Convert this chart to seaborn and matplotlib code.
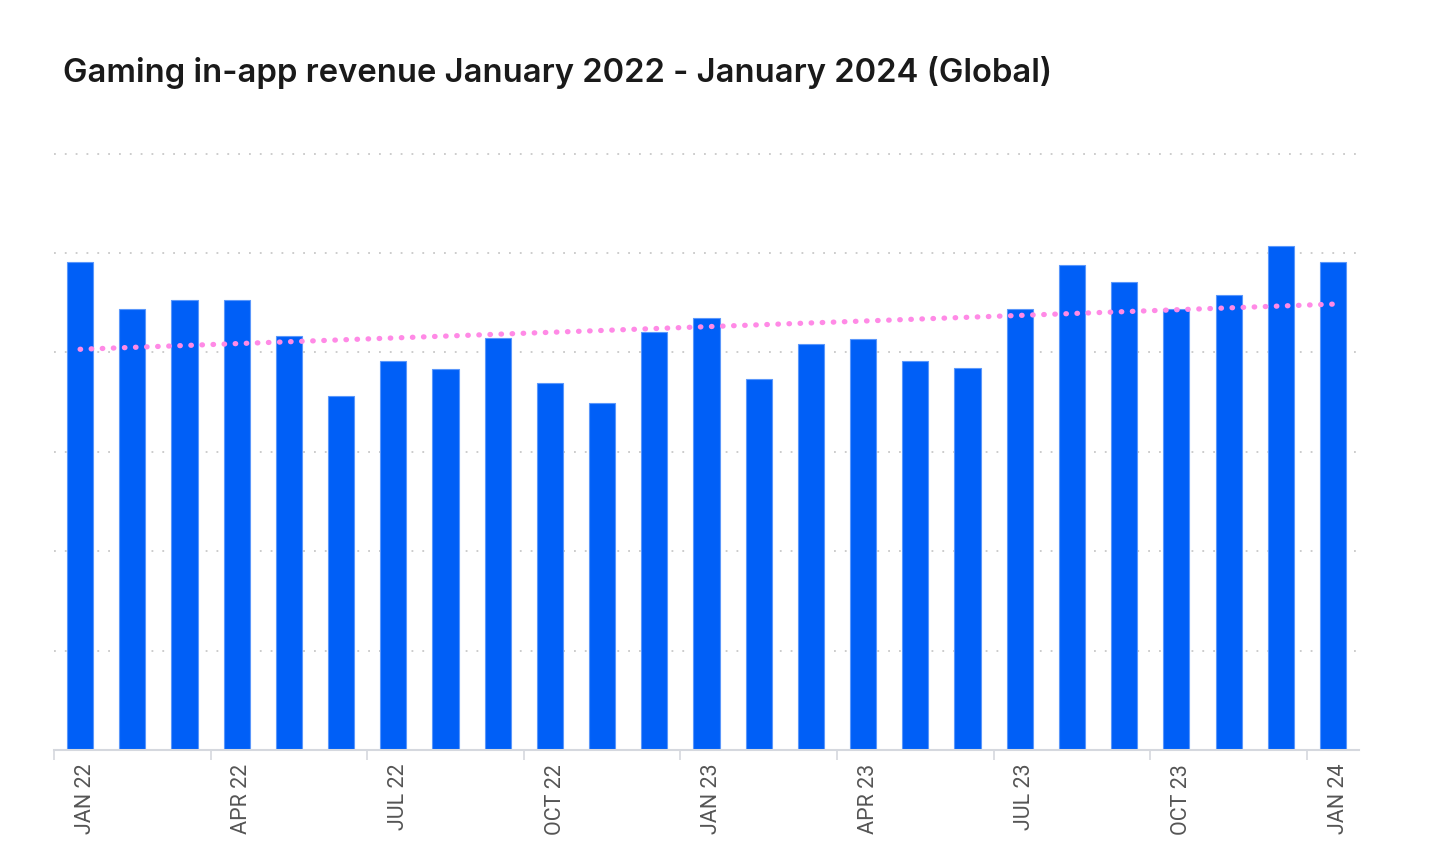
import numpy as np
import pandas as pd
import seaborn as sns
import matplotlib.pyplot as plt

# monthly in-app revenue (gridline = 1 unit)
months = ["JAN 22", "FEB 22", "MAR 22", "APR 22", "MAY 22", "JUN 22", "JUL 22",
          "AUG 22", "SEP 22", "OCT 22", "NOV 22", "DEC 22", "JAN 23", "FEB 23",
          "MAR 23", "APR 23", "MAY 23", "JUN 23", "JUL 23", "AUG 23", "SEP 23",
          "OCT 23", "NOV 23", "DEC 23", "JAN 24"]
revenue = [4.91, 4.44, 4.53, 4.53, 4.16, 3.56, 3.91, 3.83, 4.14, 3.69, 3.49, 4.20,
           4.35, 3.73, 4.08, 4.13, 3.91, 3.84, 4.44, 4.88, 4.71, 4.44, 4.58, 5.07, 4.91]
shown_labels = ["JAN 22", "APR 22", "JUL 22", "OCT 22", "JAN 23", "APR 23",
                "JUL 23", "OCT 23", "JAN 24"]

df = pd.DataFrame({"month": months, "revenue": revenue})

sns.set_style("white")
plt.rcParams["font.family"] = ["Roboto", "DejaVu Sans"]

fig = plt.figure(figsize=(14.4, 8.61), dpi=100)
ax = fig.add_axes([0.0375, 0.129, 0.9063, 0.703])

sns.barplot(data=df, x="month", y="revenue", color="#005ff7", saturation=1,
            width=0.5, ax=ax, edgecolor="#5b97fb", linewidth=0.8)

# linear trend line
xs = np.arange(len(revenue))
slope, intercept = np.polyfit(xs, revenue, 1)
sns.lineplot(x=xs, y=slope * xs + intercept, ax=ax, color="#ff8ae6",
             linestyle=(0, (0.1, 2.0)), linewidth=3.8, dash_capstyle="round", zorder=3)

ax.set_xlim(-0.5, 24.5)
ax.set_ylim(0, 6.09)
ax.set_yticks(range(1, 7))
ax.yaxis.grid(True, color="#c8c8c8", linestyle=(0, (1, 5)), linewidth=1.3)
ax.set_axisbelow(True)
ax.tick_params(axis="y", left=False, labelleft=False)

for s in ["top", "right", "left"]:
    ax.spines[s].set_visible(False)
ax.spines["bottom"].set_color("#d5d8de")
ax.spines["bottom"].set_linewidth(1.5)

# tick marks sit between bars, labels under bars
ax.set_xticks([i - 0.5 for i in range(0, 25, 3)])
ax.set_xticklabels([])
ax.tick_params(axis="x", bottom=True, length=7, width=1.2, color="#d5d8de")
for i, m in enumerate(months):
    if m in shown_labels:
        ax.text(i + 0.1, -0.14, m, rotation=90, ha="center", va="top",
                fontsize=15.5, color="#555555")

ax.set_xlabel("")
ax.set_ylabel("")

fig.text(0.044, 0.916, "Gaming in-app revenue January 2022 - January 2024 (Global)",
         fontsize=23.6, fontweight="semibold", color="#1a1a1a", family=["Inter", "DejaVu Sans"],
         va="center")

fig.savefig("out.png", dpi=100, facecolor="white")
